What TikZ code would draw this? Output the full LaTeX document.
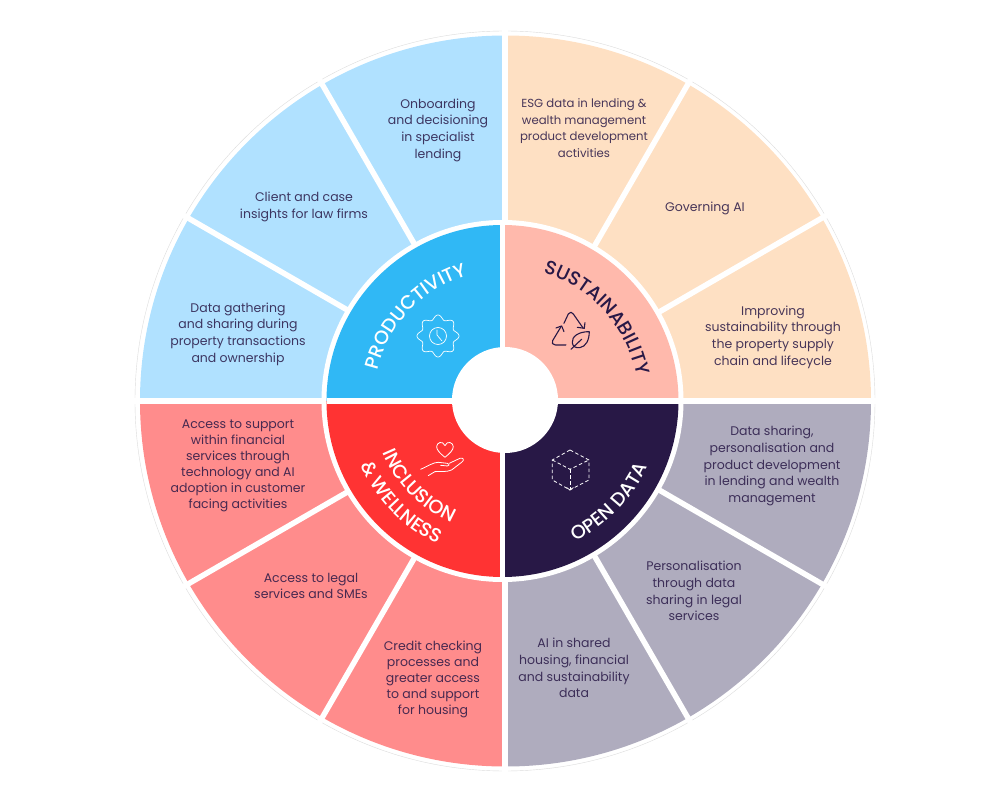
\documentclass[tikz,border=0pt]{standalone}
\usepackage{fontspec}
\setmainfont{Poppins}
\newfontfamily\titlefam[UprightFont=* Medium]{Poppins}
\usetikzlibrary{decorations.text}

\definecolor{navy}{HTML}{281846}
\definecolor{bluelight}{HTML}{B0E1FF}
\definecolor{bluemid}{HTML}{30B8F5}
\definecolor{peachlight}{HTML}{FEE0C3}
\definecolor{salmonmid}{HTML}{FFB9AC}
\definecolor{greylight}{HTML}{AFACBE}
\definecolor{redlight}{HTML}{FF8C8C}
\definecolor{redmid}{HTML}{FF3333}

\newcommand{\titlefont}{\titlefam\fontsize{19.2}{19.2}\selectfont}

\tikzset{
    topic/.style={align=center, text=navy, text opacity=.85, font=\fontsize{12.5}{16.7}\selectfont},
    tight topic/.style={topic, font=\fontsize{12.5}{16}\selectfont},
    small topic/.style={topic, font=\fontsize{11.7}{16.7}\selectfont},
    gap/.style={white, line width=5.5pt},
    icon/.style={line width=.8pt, line cap=round, line join=round},
    dashed icon/.style={line width=.8pt, dash pattern=on 3.5pt off 2.5pt},
    curved title/.style 2 args={decorate, decoration={text along path, text align=center, text={|\titlefont\color{#1}|#2}}}
}

\begin{document}
\begin{tikzpicture}[x=1pt, y=1pt]
    \useasboundingbox (-505,-399) rectangle (495,401);

    % Faint rim
    \draw[black!14, line width=.4pt] (0,0) circle (370);

    % Outer quarters
    \foreach \ang/\col in {0/peachlight, 90/bluelight, 180/redlight, 270/greylight}
        \fill[\col] (.5,0) -- ++(\ang:365.5) arc[start angle=\ang, delta angle=90, radius=365.5] -- cycle;

    % Spokes between the outer cells
    \foreach \ang in {30,60,120,150,210,240,300,330}
        \draw[gap] (0,0) -- (\ang:375);
    \draw[gap] (0,-375) -- (0,375);
    \draw[gap] (-375,0) -- (375,0);

    % Inner quarters
    \fill[white] (-2.5,0) circle (181);
    \foreach \ang/\col in {0/salmonmid, 90/bluemid, 180/redmid, 270/navy}
        \fill[\col] (-2.5,0) -- ++(\ang:176) arc[start angle=\ang, delta angle=90, radius=176] -- cycle;
    \draw[gap] (-2.5,-178) -- (-2.5,178);
    \draw[gap] (-178,0) -- (178,0);
    \fill[white] (0,1) circle (53);

    % Curved titles
    \path[curved title={white}{PRODUCTIVITY}] (191.5:131) arc[start angle=191.5, end angle=81.5, radius=131];
    \path[curved title={navy}{SUSTAINABILITY}] (95:134) arc[start angle=95, end angle=-11, radius=134];
    \path[curved title={white}{INCLUSION}] (170:133) arc[start angle=170, end angle=279, radius=133];
    \path[curved title={white}{{\&} WELLNESS}] (170:158) arc[start angle=170, end angle=279, radius=158];
    \path[curved title={white}{OPEN DATA}] (-99:157) arc[start angle=-99, end angle=11, radius=157];

    % Productivity cells
    \node[topic] (onboarding) at (-67,271) {Onboarding\\and decisioning\\in specialist\\lending};
    \node[topic] (casework) at (-201,194) {Client and case\\insights for law firms};
    \node[topic] (property) at (-267,67) {Data gathering\\and sharing during\\property transactions\\and ownership};

    % Sustainability cells
    \node[small topic] (esg) at (79,273) {ESG data in lending \&\\wealth management\\product development\\activities};
    \node[topic] (governing) at (200,193) {Governing AI};
    \node[topic] (supply) at (268,64) {Improving\\sustainability through\\the property supply\\chain and lifecycle};

    % Open data cells
    \node[topic] (sharing) at (267,-65) {Data sharing,\\personalisation and\\product development\\in lending and wealth\\management};
    \node[topic] (legaldata) at (189,-190) {Personalisation\\through data\\sharing in legal\\services};
    \node[topic] (housing) at (69,-267) {AI in shared\\housing, financial\\and sustainability\\data};

    % Inclusion cells
    \node[tight topic] (support) at (-267,-65) {Access to support\\within financial\\services through\\technology and AI\\adoption in customer\\facing activities};
    \node[topic] (legal) at (-194,-185) {Access to legal\\services and SMEs};
    \node[tight topic] (credit) at (-72,-278) {Credit checking\\processes and\\greater access\\to and support\\for housing};

    % Gear with clock
    \begin{scope}[shift={(-67,65)}]
        \draw[icon, white, line width=.7pt] plot[domain=0:360, samples=145, smooth] (\x:{18.8+2.2*cos(8*\x)}) -- cycle;
        \draw[icon, white, line width=.7pt] (0,0) circle (8.5);
        \draw[icon, white, line width=.7pt] (-1,6) -- (-1,1) -- (4,-5);
    \end{scope}

    % Recycling arrows with leaf
    \begin{scope}[shift={(35,101)}, x=.333pt, y=-.333pt, navy]
        \draw[icon, line width=1.1pt] (72,70) -- (85,42) .. controls (90,35) and (96,35) .. (100,42) -- (130,85);
        \draw[icon, line width=1.1pt] (112,82) -- (133,85) -- (135,68);
        \draw[icon, line width=1.1pt] (78,135) -- (46,135) .. controls (38,135) and (34,128) .. (38,122) -- (62,82);
        \draw[icon, line width=1.1pt] (48,84) -- (65,78) -- (72,95);
        \draw[icon, line width=1.1pt] (93,148) -- (125,118);
        \draw[icon, line width=1.1pt] (148,95) .. controls (115,95) and (95,110) .. (97,128) .. controls (98,140) and (108,145) .. (120,143) .. controls (138,140) and (148,120) .. (148,95);
    \end{scope}

    % Heart over open hand
    \begin{scope}[shift={(-95,-29)}, x=.333pt, y=-.333pt, white]
        \draw[icon] (105,82) .. controls (90,70) and (80,60) .. (80,50) .. controls (80,38) and (98,30) .. (105,47) .. controls (112,30) and (130,38) .. (130,50) .. controls (130,60) and (120,70) .. (105,82);
        \draw[icon] (32,118) .. controls (55,108) and (70,97) .. (85,97) -- (112,100) .. controls (120,104) and (118,108) .. (112,108) -- (92,106);
        \draw[icon] (118,100) -- (150,85) .. controls (160,82) and (165,90) .. (155,97) -- (125,120) .. controls (110,127) and (90,124) .. (75,125) -- (55,137);
    \end{scope}

    % Dashed cube
    \begin{scope}[shift={(35,-39)}, x=.333pt, y=-.333pt, white]
        \draw[dashed icon] (90,30) -- (147,60) -- (147,120) -- (90,150) -- (37,120) -- (37,60) -- cycle;
        \draw[dashed icon] (37,60) -- (90,88) -- (147,60);
        \draw[dashed icon] (90,88) -- (90,150);
        \draw[icon] (80,143) -- (90,150) -- (100,143);
    \end{scope}
\end{tikzpicture}
\end{document}
